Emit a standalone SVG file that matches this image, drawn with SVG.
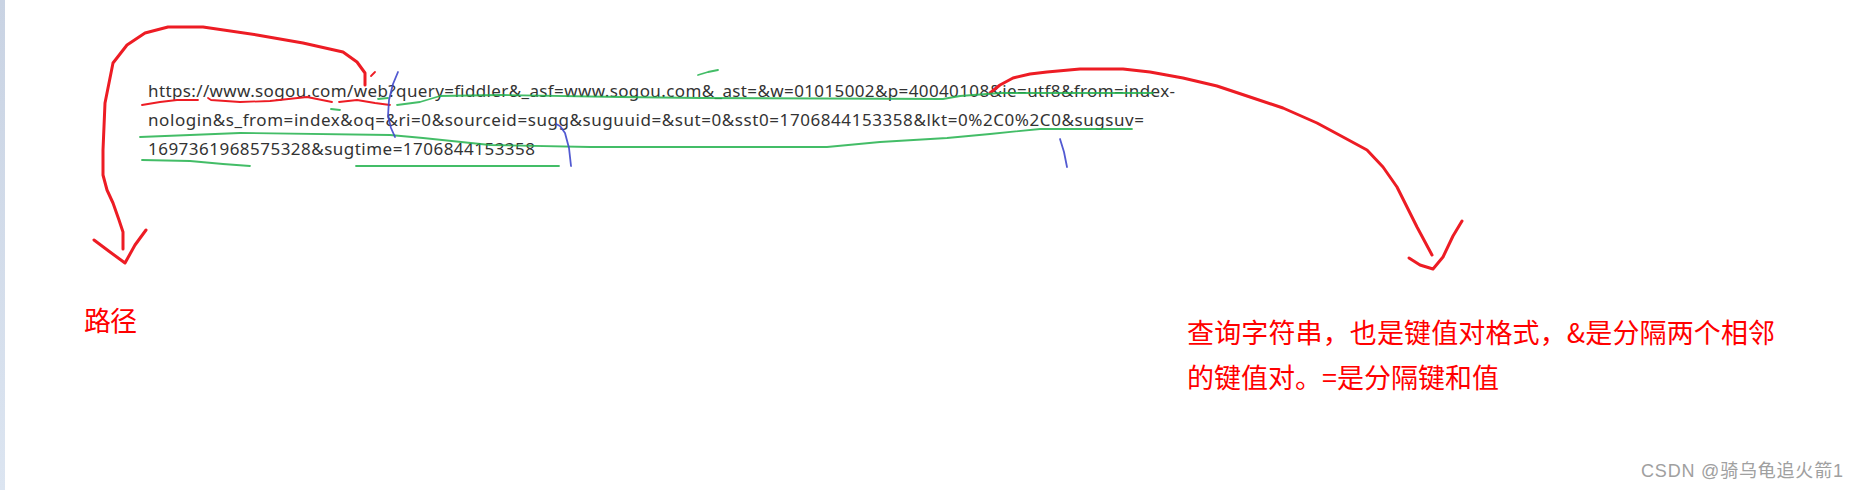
<svg xmlns="http://www.w3.org/2000/svg" width="1859" height="490" viewBox="0 0 1859 490">
<defs>
<linearGradient id="edge" x1="0" y1="0" x2="0" y2="1">
<stop offset="0" stop-color="#c9d3e3"/>
<stop offset="1" stop-color="#dce5f1"/>
</linearGradient>
<style>
.url{font-family:"Noto Sans","Open Sans","Liberation Sans",sans-serif;font-size:17px;fill:#333333}
.note{font-family:"Noto Sans CJK SC","Noto Sans",sans-serif;font-size:27px;fill:#ff0000}
.wm{font-family:"Liberation Sans","Noto Sans CJK SC",sans-serif;font-size:18px;fill:#a0a0a0}
.red{fill:none;stroke:#ed1c24;stroke-width:3;stroke-linecap:round;stroke-linejoin:round}
.redt{fill:none;stroke:#ed1c24;stroke-width:1.8;stroke-linecap:round;stroke-linejoin:round}
.grn{fill:none;stroke:#22b14c;stroke-width:1.8;stroke-linecap:round;stroke-linejoin:round;opacity:0.85}
.blu{fill:none;stroke:#3f48cc;stroke-width:1.8;stroke-linecap:round;stroke-linejoin:round;opacity:0.9}
</style>
</defs>
<rect x="0" y="0" width="1859" height="490" fill="#ffffff"/>
<rect x="0" y="0" width="5" height="490" fill="url(#edge)"/>

<g id="url-text">
<text class="url" x="148" y="97" textLength="1027">https://www.sogou.com/web?query=fiddler&amp;_asf=www.sogou.com&amp;_ast=&amp;w=01015002&amp;p=40040108&amp;ie=utf8&amp;from=index-</text>
<text class="url" x="148" y="126" textLength="996">nologin&amp;s_from=index&amp;oq=&amp;ri=0&amp;sourceid=sugg&amp;suguuid=&amp;sut=0&amp;sst0=1706844153358&amp;lkt=0%2C0%2C0&amp;sugsuv=</text>
<text class="url" x="148" y="155" textLength="387">1697361968575328&amp;sugtime=1706844153358</text>
</g>

<g id="label-path">
<text class="note" x="84" y="331" textLength="53">路径</text>
</g>

<g id="label-query">
<text class="note" x="1187" y="343" textLength="588">查询字符串，也是键值对格式，&amp;是分隔两个相邻</text>
<text class="note" x="1187" y="388">的键值对。=是分隔键和值</text>
</g>

<g id="watermark">
<text class="wm" x="1641" y="477" textLength="202">CSDN @骑乌龟追火箭1</text>
</g>

<g id="connectors">
<!-- red underlines of path part -->
<polyline class="redt" points="142,105 160,102 177,100 198,100"/>
<polyline class="redt" points="208,98 211,100 240,102 270,101 307,97 332,102"/>
<polyline class="redt" points="339,102 357,100 375,103 390,105"/>
<polyline class="redt" points="371,76 375,72"/>
<!-- left arrow to 路径 -->
<polyline class="red" points="365,85 365,73 357,62 343,52 303,43 257,35 203,27 168,27 145,33 127,45 113,63 105,103 103,150 103,175 107,190 113,203 119,220 123,232 123,249"/>
<polyline class="red" points="94,240 110,252 125,263 135,245 146,230"/>
<!-- right arrow to query note -->
<polyline class="red" points="990,93 1000,85 1013,78 1030,74 1047,72 1080,69 1123,69 1150,72 1183,78 1217,86 1250,97 1283,108 1317,123 1343,137 1367,150 1383,167 1397,187 1407,207 1417,227 1432,255"/>
<polyline class="red" points="1409,258 1420,265 1433,269 1443,257 1453,236 1462,221"/>
<!-- green underlines of query string -->
<polyline class="grn" points="378,99 388,98"/>
<polyline class="grn" points="397,105 420,102 440,96 500,95 620,97 700,98 943,99 960,96 1000,93 1080,93 1153,93"/>
<polyline class="grn" points="698,75 708,72 718,70"/>
<polyline class="grn" points="331,109 340,110"/>
<polyline class="grn" points="140,137 240,133 390,135 423,138 490,145 590,147 680,147 827,147 880,142 947,138 990,134 1040,129 1132,129"/>
<polyline class="grn" points="142,160 190,161 223,164 250,166"/>
<polyline class="grn" points="356,166 450,166 559,166"/>
<!-- blue separators -->
<polyline class="blu" points="398,72 393,84 389,100 388,116 391,128 395,137"/>
<polyline class="blu" points="556,124 560,126 565,133 569,148 571,166"/>
<polyline class="blu" points="1060,139 1064,152 1067,167"/>
</g>
</svg>
